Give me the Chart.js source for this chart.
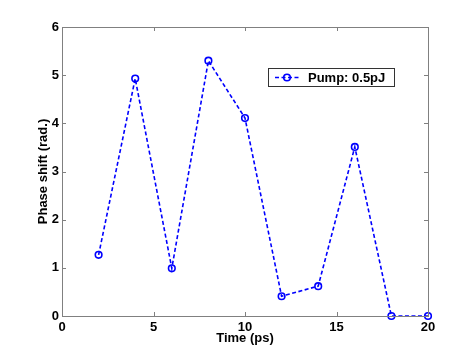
<!DOCTYPE html>
<html>
<head>
<meta charset="utf-8">
<script src="https://cdn.jsdelivr.net/npm/chart.js@4/dist/chart.umd.min.js"></script>
<style>
html,body{margin:0;padding:0;background:#fff;}
#wrap{width:474px;height:355px;}
</style>
</head>
<body>
<div id="wrap"><canvas id="c" width="474" height="355"></canvas></div>
<script>
const timePs = [2, 4, 6, 8, 10, 12, 14, 16, 18, 20];
const phaseShift = [1.27, 4.93, 0.99, 5.30, 4.11, 0.41, 0.62, 3.51, 0, 0];
const seriesLabel = 'Pump: 0.5pJ';
const xTicks = [0, 5, 10, 15, 20];
const yTicks = [0, 1, 2, 3, 4, 5, 6];

const FONT = '"Liberation Sans", Arial, Helvetica, sans-serif';
const BLUE = '#0000ff';
const AXIS = '#808080';

const boxPlugin = {
  id: 'matlabBox',
  afterDatasetsDraw(chart) {
    const ctx = chart.ctx;
    const a = chart.chartArea;
    const xs = chart.scales.x, ys = chart.scales.y;
    ctx.save();
    ctx.strokeStyle = AXIS;
    ctx.lineWidth = 1;
    ctx.setLineDash([]);
    ctx.strokeRect(Math.round(a.left) + 0.5, Math.round(a.top) + 0.5,
                   Math.round(a.right - a.left), Math.round(a.bottom - a.top));
    const tl = 4;
    ctx.beginPath();
    xTicks.forEach(v => {
      const px = Math.round(xs.getPixelForValue(v)) + 0.5;
      ctx.moveTo(px, a.bottom); ctx.lineTo(px, a.bottom - tl);
      ctx.moveTo(px, a.top); ctx.lineTo(px, a.top + tl);
    });
    yTicks.forEach(v => {
      const py = Math.round(ys.getPixelForValue(v)) + 0.5;
      ctx.moveTo(a.left, py); ctx.lineTo(a.left + tl, py);
      ctx.moveTo(a.right, py); ctx.lineTo(a.right - tl, py);
    });
    ctx.stroke();

    // legend
    const lx = 268.5, ly = 68.5, lw = 126, lh = 18;
    ctx.fillStyle = '#fff';
    ctx.fillRect(lx, ly, lw, lh);
    ctx.strokeStyle = '#333';
    ctx.strokeRect(lx, ly, lw, lh);
    const cy = ly + lh / 2;
    ctx.strokeStyle = BLUE;
    ctx.lineWidth = 1.6;
    ctx.setLineDash([4, 2.5]);
    ctx.beginPath(); ctx.moveTo(275, cy); ctx.lineTo(299, cy); ctx.stroke();
    ctx.setLineDash([]);
    ctx.beginPath(); ctx.arc(287, cy, 3.3, 0, Math.PI * 2); ctx.stroke();
    ctx.fillStyle = '#000';
    ctx.font = 'bold 13px ' + FONT;
    ctx.textBaseline = 'middle';
    ctx.textAlign = 'left';
    ctx.fillText(chart.data.datasets[0].label, 308, cy + 0.5);
    ctx.restore();
  }
};

new Chart(document.getElementById('c'), {
  type: 'line',
  data: {
    datasets: [{
      label: seriesLabel,
      data: timePs.map((t, i) => ({x: t, y: phaseShift[i]})),
      borderColor: BLUE,
      borderWidth: 1.6,
      borderDash: [4, 2.5],
      pointStyle: 'circle',
      pointRadius: 3.3,
      pointBorderWidth: 1.6,
      pointBorderColor: BLUE,
      pointBackgroundColor: 'rgba(0,0,0,0)',
      tension: 0,
      fill: false,
      clip: false
    }]
  },
  options: {
    responsive: false,
    animation: false,
    devicePixelRatio: 1,
    layout: {padding: {left: 0, top: 27, right: 46, bottom: 0}},
    plugins: {legend: {display: false}, tooltip: {enabled: false}},
    scales: {
      x: {
        type: 'linear', min: 0, max: 20,
        afterFit(s) { s.height = 39; },
        afterBuildTicks(s) { s.ticks = xTicks.map(v => ({value: v})); },
        grid: {display: false, drawTicks: false},
        border: {display: false},
        ticks: {color: '#000', font: {family: FONT, size: 13, weight: 'bold'}, padding: 4, maxRotation: 0},
        title: {display: true, text: 'Time (ps)', color: '#000',
                font: {family: FONT, size: 13, weight: 'bold'}, padding: {top: 0, bottom: 9}}
      },
      y: {
        type: 'linear', min: 0, max: 6,
        afterFit(s) { s.width = 62; },
        afterBuildTicks(s) { s.ticks = yTicks.map(v => ({value: v})); },
        grid: {display: false, drawTicks: false},
        border: {display: false},
        ticks: {color: '#000', font: {family: FONT, size: 13, weight: 'bold'}, padding: 3},
        title: {display: true, text: 'Phase shift (rad.)', color: '#000',
                font: {family: FONT, size: 13, weight: 'bold'}, padding: {top: 36, bottom: 0}}
      }
    }
  },
  plugins: [boxPlugin]
});
</script>
</body>
</html>
